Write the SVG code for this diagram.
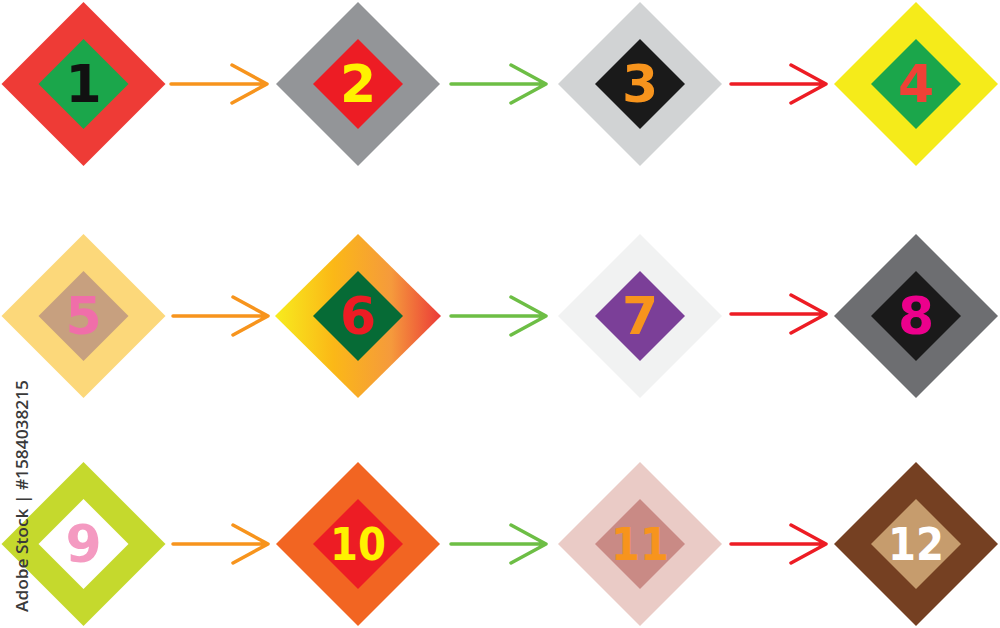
<svg xmlns="http://www.w3.org/2000/svg" width="1000" height="628" viewBox="0 0 1000 628">
<style>
.num{font-family:"DejaVu Sans","Liberation Sans",sans-serif;font-weight:bold;text-anchor:middle}
.n1{font-size:52px}
.n2{font-size:44px}
.arr{fill:none;stroke-width:3.5;stroke-linecap:round;stroke-linejoin:round}
.o{stroke:#F7941D}.g{stroke:#6DBE45}.r{stroke:#ED1C24}
.wm{font-family:"Open Sans","Liberation Sans",sans-serif;font-weight:600;font-size:16px;fill:#3a3a3a}
</style>
<defs>
<linearGradient id="grad6" gradientUnits="userSpaceOnUse" x1="275" y1="0" x2="441" y2="0">
<stop offset="0" stop-color="#F7EC1E"/>
<stop offset="0.35" stop-color="#FBB817"/>
<stop offset="0.7" stop-color="#F59A3C"/>
<stop offset="1" stop-color="#EB3A38"/>
</linearGradient>
</defs>
<rect width="1000" height="628" fill="#fff"/>
<g id="connectors">
<path class="arr o" d="M171 84H267M232 65L267 84L232 103"/>
<path class="arr g" d="M451 84H546M511 65L546 84L511 103"/>
<path class="arr r" d="M731 84H826M791 65L826 84L791 103"/>
<path class="arr o" d="M173 316H268M233 297L268 316L233 335"/>
<path class="arr g" d="M451 316H546M511 297L546 316L511 335"/>
<path class="arr r" d="M731 314H826M791 295L826 314L791 333"/>
<path class="arr o" d="M173 544H268M233 525L268 544L233 563"/>
<path class="arr g" d="M451 544H546M511 525L546 544L511 563"/>
<path class="arr r" d="M731 544H826M791 525L826 544L791 563"/>
</g>
<g id="node1"><path d="M83.5 2L165.5 84L83.5 166L1.5 84Z" fill="#EE3B36"/><path d="M83.5 39L128.5 84L83.5 129L38.5 84Z" fill="#1BA64B"/><text class="num n1" x="83.5" y="102" fill="#111">1</text></g>
<g id="node2"><path d="M358 2L440 84L358 166L276 84Z" fill="#939598"/><path d="M358 39L403 84L358 129L313 84Z" fill="#ED1C24"/><text class="num n1" x="358" y="102" fill="#FFF200">2</text></g>
<g id="node3"><path d="M640 2L722 84L640 166L558 84Z" fill="#D1D3D4"/><path d="M640 39L685 84L640 129L595 84Z" fill="#1A1A1A"/><text class="num n1" x="640" y="102" fill="#F7941D">3</text></g>
<g id="node4"><path d="M916 2L998 84L916 166L834 84Z" fill="#F5EB1A"/><path d="M916 39L961 84L916 129L871 84Z" fill="#1BA64B"/><text class="num n1" x="916" y="102" fill="#EF4136">4</text></g>
<g id="node5"><path d="M83.5 234L165.5 316L83.5 398L1.5 316Z" fill="#FCD87A"/><path d="M83.5 271L128.5 316L83.5 361L38.5 316Z" fill="#C7A07F"/><text class="num n1" x="83.5" y="334" fill="#F06EA9">5</text></g>
<g id="node6"><path d="M358 234L441 316L358 398L275 316Z" fill="url(#grad6)"/><path d="M358 271L403 316L358 361L313 316Z" fill="#066B36"/><text class="num n1" x="358" y="334" fill="#ED1C24">6</text></g>
<g id="node7"><path d="M640 234L722 316L640 398L558 316Z" fill="#F1F2F2"/><path d="M640 271L685 316L640 361L595 316Z" fill="#7B3F98"/><text class="num n1" x="640" y="334" fill="#F7941D">7</text></g>
<g id="node8"><path d="M916 234L998 316L916 398L834 316Z" fill="#6D6E71"/><path d="M916 271L961 316L916 361L871 316Z" fill="#1A1A1A"/><text class="num n1" x="916" y="334" fill="#EC008C">8</text></g>
<g id="node9"><path d="M83.5 462L165.5 544L83.5 626L1.5 544Z" fill="#C5D92D"/><path d="M83.5 499L128.5 544L83.5 589L38.5 544Z" fill="#FFFFFF"/><text class="num n1" x="83.5" y="562" fill="#F49AC1">9</text></g>
<g id="node10"><path d="M358 462L440 544L358 626L276 544Z" fill="#F26522"/><path d="M358 499L403 544L358 589L313 544Z" fill="#ED1C24"/><text class="num n2" x="358" y="560" fill="#FFF200" textLength="56" lengthAdjust="spacingAndGlyphs">10</text></g>
<g id="node11"><path d="M640 462L722 544L640 626L558 544Z" fill="#EACBC6"/><path d="M640 499L685 544L640 589L595 544Z" fill="#C98A85"/><text class="num n2" x="640" y="560" fill="#F7941D" textLength="58" lengthAdjust="spacingAndGlyphs">11</text></g>
<g id="node12"><path d="M916 462L998 544L916 626L834 544Z" fill="#754022"/><path d="M916 499L961 544L916 589L871 544Z" fill="#C69C6D"/><text class="num n2" x="916" y="560" fill="#FFFFFF" textLength="56" lengthAdjust="spacingAndGlyphs">12</text></g>
<text class="wm" transform="translate(28 612) rotate(-90)" textLength="232" lengthAdjust="spacingAndGlyphs">Adobe Stock | #1584038215</text>
</svg>
